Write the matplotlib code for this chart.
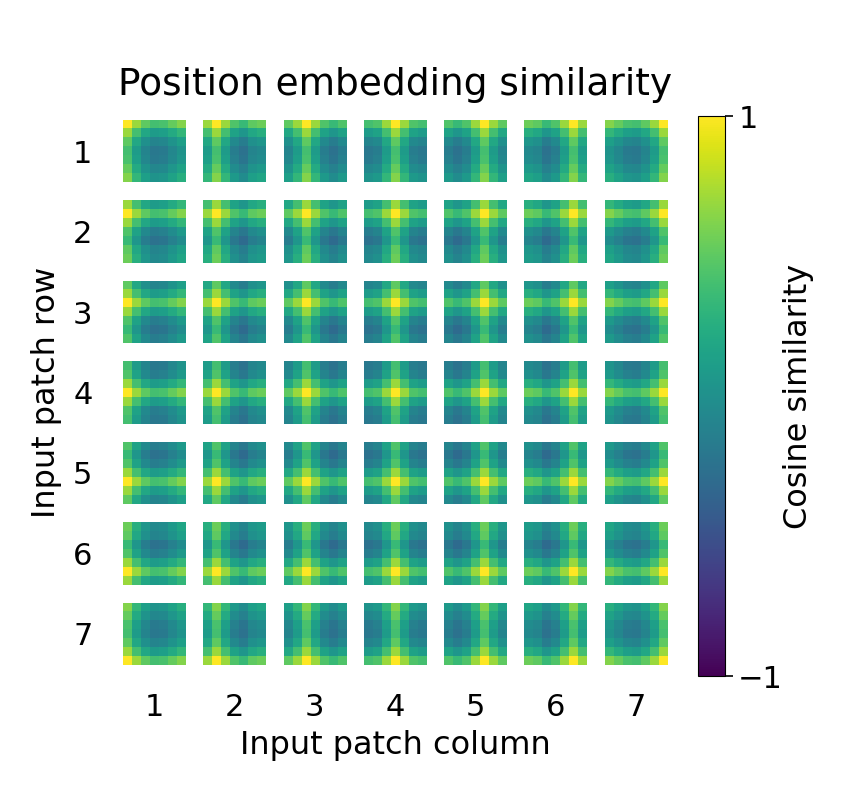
import numpy as np
import matplotlib
matplotlib.use("Agg")
import matplotlib.pyplot as plt

# 1-D positional similarity profiles, index = position 1..7
sim_1d = [
    [1.0, 0.4, 0.0, -0.2, -0.15, 0.05, 0.25],
    [0.4, 1.0, 0.4, -0.1, -0.3, 0.0, 0.1],
    [0.0, 0.4, 1.0, 0.4, -0.1, -0.3, -0.1],
    [-0.2, -0.1, 0.4, 1.0, 0.4, -0.1, -0.2],
    [-0.1, -0.3, -0.1, 0.4, 1.0, 0.4, 0.0],
    [0.1, 0.0, -0.3, -0.1, 0.4, 1.0, 0.4],
    [0.25, 0.05, -0.15, -0.2, 0.0, 0.4, 1.0],
]
tick_labels = ["1", "2", "3", "4", "5", "6", "7"]
S = np.array(sim_1d)

W, H = 863, 802
fig = plt.figure(figsize=(W/100, H/100), dpi=100)

x0, y0, x1, y1 = 123, 120, 667, 665
n = 7
step_x = (x1 - x0 + 18) / n
step_y = (y1 - y0 + 18) / n
tw, th = step_x - 18, step_y - 18

outer = fig.add_axes([x0/W, 1 - y1/H, (x1-x0)/W, (y1-y0)/H])
outer.set_xlim(0, x1-x0); outer.set_ylim(y1-y0, 0)
outer.set_xticks([tw/2 + k*step_x for k in range(n)], tick_labels, fontsize=22)
outer.set_yticks([th/2 + k*step_y for k in range(n)], tick_labels, fontsize=22)
outer.tick_params(axis="x", length=0, pad=20)
outer.tick_params(axis="y", length=0, pad=22)
for s in outer.spines.values():
    s.set_visible(False)
outer.patch.set_alpha(0)
outer.set_xlabel("Input patch column", fontsize=23, labelpad=6)
outer.set_ylabel("Input patch row", fontsize=23, labelpad=8)
outer.set_title("Position embedding similarity", fontsize=27, pad=18)

im = None
for r in range(n):
    for c in range(n):
        tile = (S[r][:, None] + S[c][None, :]) / 2
        ax = fig.add_axes([(x0 + c*step_x)/W, 1 - (y0 + r*step_y + th)/H, tw/W, th/H])
        im = ax.imshow(tile, cmap="viridis", vmin=-1, vmax=1, aspect="auto", interpolation="nearest")
        ax.axis("off")

cax = fig.add_axes([698/W, 1 - 676/H, 27/W, (676-116)/H])
cb = fig.colorbar(im, cax=cax, ticks=[-1, 1])
cb.ax.set_yticklabels(["\u22121", "1"], fontsize=22)
cb.set_label("Cosine similarity", fontsize=23, labelpad=0)
cb.ax.tick_params(length=6, width=1.2)

fig.savefig("out.png", dpi=100)
